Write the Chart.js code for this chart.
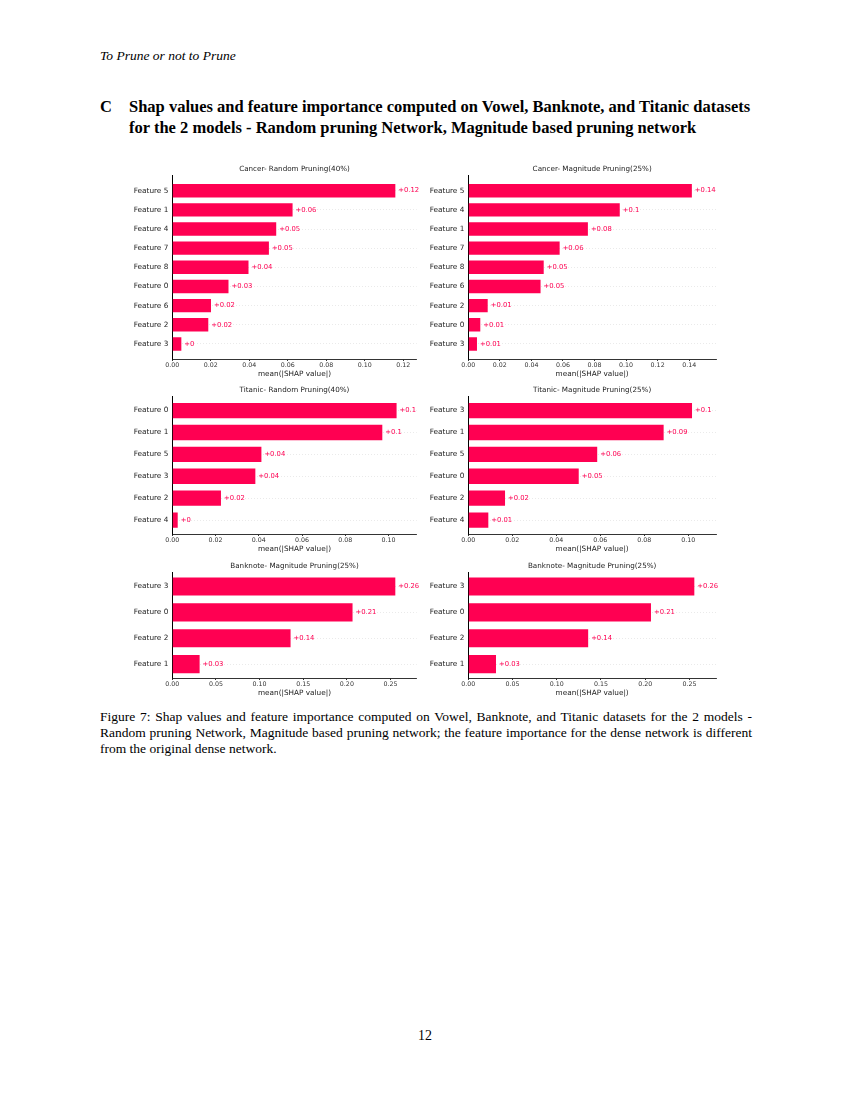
<!DOCTYPE html>
<html>
<head>
<meta charset="utf-8">
<script src="https://cdn.jsdelivr.net/npm/chart.js@4.4.0/dist/chart.umd.min.js"></script>
<style>
  body { margin: 0; background: #fff; width: 850px; height: 1100px; position: relative;
         font-family: "Liberation Serif", "Times New Roman", serif; color: #000; }
  .abs { position: absolute; white-space: nowrap; }
  .panel { position: absolute; }
  .cap div { height: 16px; line-height: 16px; white-space: nowrap; }
  .just { text-align: justify; text-align-last: justify; }
</style>
</head>
<body>

<div class="abs" style="left:100px; top:48px; font-style:italic; font-size:13.5px;">To Prune or not to Prune</div>

<div class="abs" style="left:100px; top:96px; font-weight:bold; font-size:16.5px; line-height:21px;">
  <div style="position:absolute; left:0; top:0;">C</div>
  <div style="margin-left:29px;">Shap values and feature importance computed on Vowel, Banknote, and Titanic datasets<br>for the 2 models - Random pruning Network, Magnitude based pruning network</div>
</div>

<div class="panel" style="left:110px; top:163px; width:312px; height:215px;"><canvas id="p1"></canvas></div>
<div class="panel" style="left:422px; top:163px; width:300px; height:215px;"><canvas id="p2"></canvas></div>
<div class="panel" style="left:110px; top:384px; width:312px; height:169px;"><canvas id="p3"></canvas></div>
<div class="panel" style="left:422px; top:384px; width:300px; height:169px;"><canvas id="p4"></canvas></div>
<div class="panel" style="left:110px; top:560px; width:312px; height:137px;"><canvas id="p5"></canvas></div>
<div class="panel" style="left:422px; top:560px; width:300px; height:137px;"><canvas id="p6"></canvas></div>

<div class="abs cap" style="left:100px; top:709px; width:652px; font-size:13.5px;">
  <div class="just">Figure 7: Shap values and feature importance computed on Vowel, Banknote, and Titanic datasets for the 2 models -</div>
  <div class="just">Random pruning Network, Magnitude based pruning network; the feature importance for the dense network is different</div>
  <div>from the original dense network.</div>
</div>

<div class="abs" style="left:0; width:850px; top:1028px; text-align:center; font-size:13.9px;">12</div>

<script>
const BAR_COLOR = '#ff0052';

// Cancer - Random Pruning (40%)
const cancerRandFeatures = ['Feature 5', 'Feature 1', 'Feature 4', 'Feature 7', 'Feature 8', 'Feature 0', 'Feature 6', 'Feature 2', 'Feature 3'];
const cancerRandValues = [0.1159, 0.0625, 0.0540, 0.0502, 0.0396, 0.0292, 0.0201, 0.0187, 0.0047];

// Cancer - Magnitude Pruning (25%)
const cancerMagFeatures = ['Feature 5', 'Feature 4', 'Feature 1', 'Feature 7', 'Feature 8', 'Feature 6', 'Feature 2', 'Feature 0', 'Feature 3'];
const cancerMagValues = [0.1417, 0.0960, 0.0758, 0.0579, 0.0478, 0.0458, 0.0123, 0.0076, 0.0055];

// Titanic - Random Pruning (40%)
const titanicRandFeatures = ['Feature 0', 'Feature 1', 'Feature 5', 'Feature 3', 'Feature 2', 'Feature 4'];
const titanicRandValues = [0.1037, 0.0971, 0.0412, 0.0384, 0.0225, 0.0025];

// Titanic - Magnitude Pruning (25%)
const titanicMagFeatures = ['Feature 3', 'Feature 1', 'Feature 5', 'Feature 0', 'Feature 2', 'Feature 4'];
const titanicMagValues = [0.1017, 0.0888, 0.0586, 0.0502, 0.0167, 0.0091];

// Banknote - Magnitude Pruning (25%), shown twice
const banknoteFeatures = ['Feature 3', 'Feature 0', 'Feature 2', 'Feature 1'];
const banknoteValuesA = [0.2555, 0.2065, 0.1355, 0.0313];
const banknoteValuesB = [0.2555, 0.2065, 0.1355, 0.0313];

const panelTitles = [
  'Cancer- Random Pruning(40%)', 'Cancer- Magnitude Pruning(25%)',
  'Titanic- Random Pruning(40%)', 'Titanic- Magnitude Pruning(25%)',
  'Banknote- Magnitude Pruning(25%)', 'Banknote- Magnitude Pruning(25%)'
];
const xMaxes = [0.127, 0.157, 0.113, 0.1126, 0.28, 0.28];
const xSteps = [0.02, 0.02, 0.02, 0.02, 0.05, 0.05];

/* shap style value text: +0.10 -> +0.1, +0.00 -> +0 */
function formatValue(v) {
  let s = (v >= 0 ? '+' : '\u2212') + Math.abs(v).toFixed(2);
  return s.replace(/\.?0+$/, '');
}

const valueLabels = {
  id: 'valueLabels',
  afterDatasetsDraw(chart) {
    const ctx = chart.ctx;
    const meta = chart.getDatasetMeta(0);
    const data = chart.data.datasets[0].data;
    ctx.save();
    ctx.font = '6.8px "DejaVu Sans"';
    ctx.fillStyle = BAR_COLOR;
    ctx.textAlign = 'left';
    ctx.textBaseline = 'middle';
    meta.data.forEach((bar, i) => {
      ctx.fillText(formatValue(data[i].x), bar.x + 3, bar.y);
    });
    ctx.restore();
  }
};

function makePanel(id, features, values, title, xMax, xStep, axisWidth, padRight) {
  const n = features.length;
  const margin = 0.05 * (n - 0.3);
  const yMin = 0.65 - margin;
  const yMax = n + 0.35 + margin;
  return new Chart(document.getElementById(id), {
    type: 'bar',
    data: {
      datasets: [{
        data: values.map((v, i) => ({ x: v, y: n - i })),
        backgroundColor: BAR_COLOR,
        borderWidth: 0,
        categoryPercentage: 1,
        barPercentage: 0.7
      }]
    },
    options: {
      indexAxis: 'y',
      responsive: true,
      maintainAspectRatio: false,
      animation: false,
      layout: { padding: { left: 0, right: padRight, top: 0, bottom: 0 } },
      scales: {
        x: {
          type: 'linear',
          min: 0,
          max: xMax,
          bounds: 'data',
          afterBuildTicks: s => {
            const t = [];
            for (let k = 0; k * xStep <= xMax + 1e-9; k++) t.push({ value: +(k * xStep).toFixed(4) });
            s.ticks = t;
            s.min = 0;
            s.max = xMax;
          },
          afterFit: s => { s.height = 19; },
          grid: { display: true, drawOnChartArea: false, drawTicks: true, tickLength: 2, color: '#000', lineWidth: 0.8 },
          border: { display: true, color: '#000', width: 0.8 },
          ticks: {
            padding: 1,
            color: '#333',
            font: { family: 'DejaVu Sans', size: 6.3 },
            maxRotation: 0,
            callback: v => v.toFixed(2)
          },
          title: {
            display: true,
            text: 'mean(|SHAP value|)',
            color: '#222',
            font: { family: 'DejaVu Sans', size: 7.3 },
            padding: { top: 0, bottom: 0 }
          }
        },
        y: {
          type: 'linear',
          min: yMin,
          max: yMax,
          offset: false,
          bounds: 'data',
          afterBuildTicks: s => {
            s.ticks = features.map((_, i) => ({ value: i + 1 }));
            s.min = yMin;
            s.max = yMax;
          },
          afterFit: s => { s.width = axisWidth; },
          grid: { display: true, offset: false, drawOnChartArea: true, drawTicks: false, color: 'rgba(136,136,136,0.35)', lineWidth: 0.5 },
          border: { display: true, color: '#000', width: 1, dash: [1, 2] },
          ticks: {
            padding: 4,
            color: '#222',
            font: { family: 'DejaVu Sans', size: 7.3 },
            callback: v => features[n - v]
          }
        }
      },
      plugins: {
        legend: { display: false },
        tooltip: { enabled: false },
        title: {
          display: true,
          text: title,
          fullSize: false,
          color: '#222',
          font: { family: 'DejaVu Sans', size: 7.2, weight: 'normal' },
          padding: { top: 2, bottom: 2 }
        }
      }
    },
    plugins: [valueLabels]
  });
}

makePanel('p1', cancerRandFeatures, cancerRandValues, panelTitles[0], xMaxes[0], xSteps[0], 62.3, 5.3);
makePanel('p2', cancerMagFeatures, cancerMagValues, panelTitles[1], xMaxes[1], xSteps[1], 46.3, 6);
makePanel('p3', titanicRandFeatures, titanicRandValues, panelTitles[2], xMaxes[2], xSteps[2], 62.3, 5.3);
makePanel('p4', titanicMagFeatures, titanicMagValues, panelTitles[3], xMaxes[3], xSteps[3], 46.3, 6);
makePanel('p5', banknoteFeatures, banknoteValuesA, panelTitles[4], xMaxes[4], xSteps[4], 62.3, 5.3);
makePanel('p6', banknoteFeatures, banknoteValuesB, panelTitles[5], xMaxes[5], xSteps[5], 46.3, 6);
</script>
</body>
</html>
